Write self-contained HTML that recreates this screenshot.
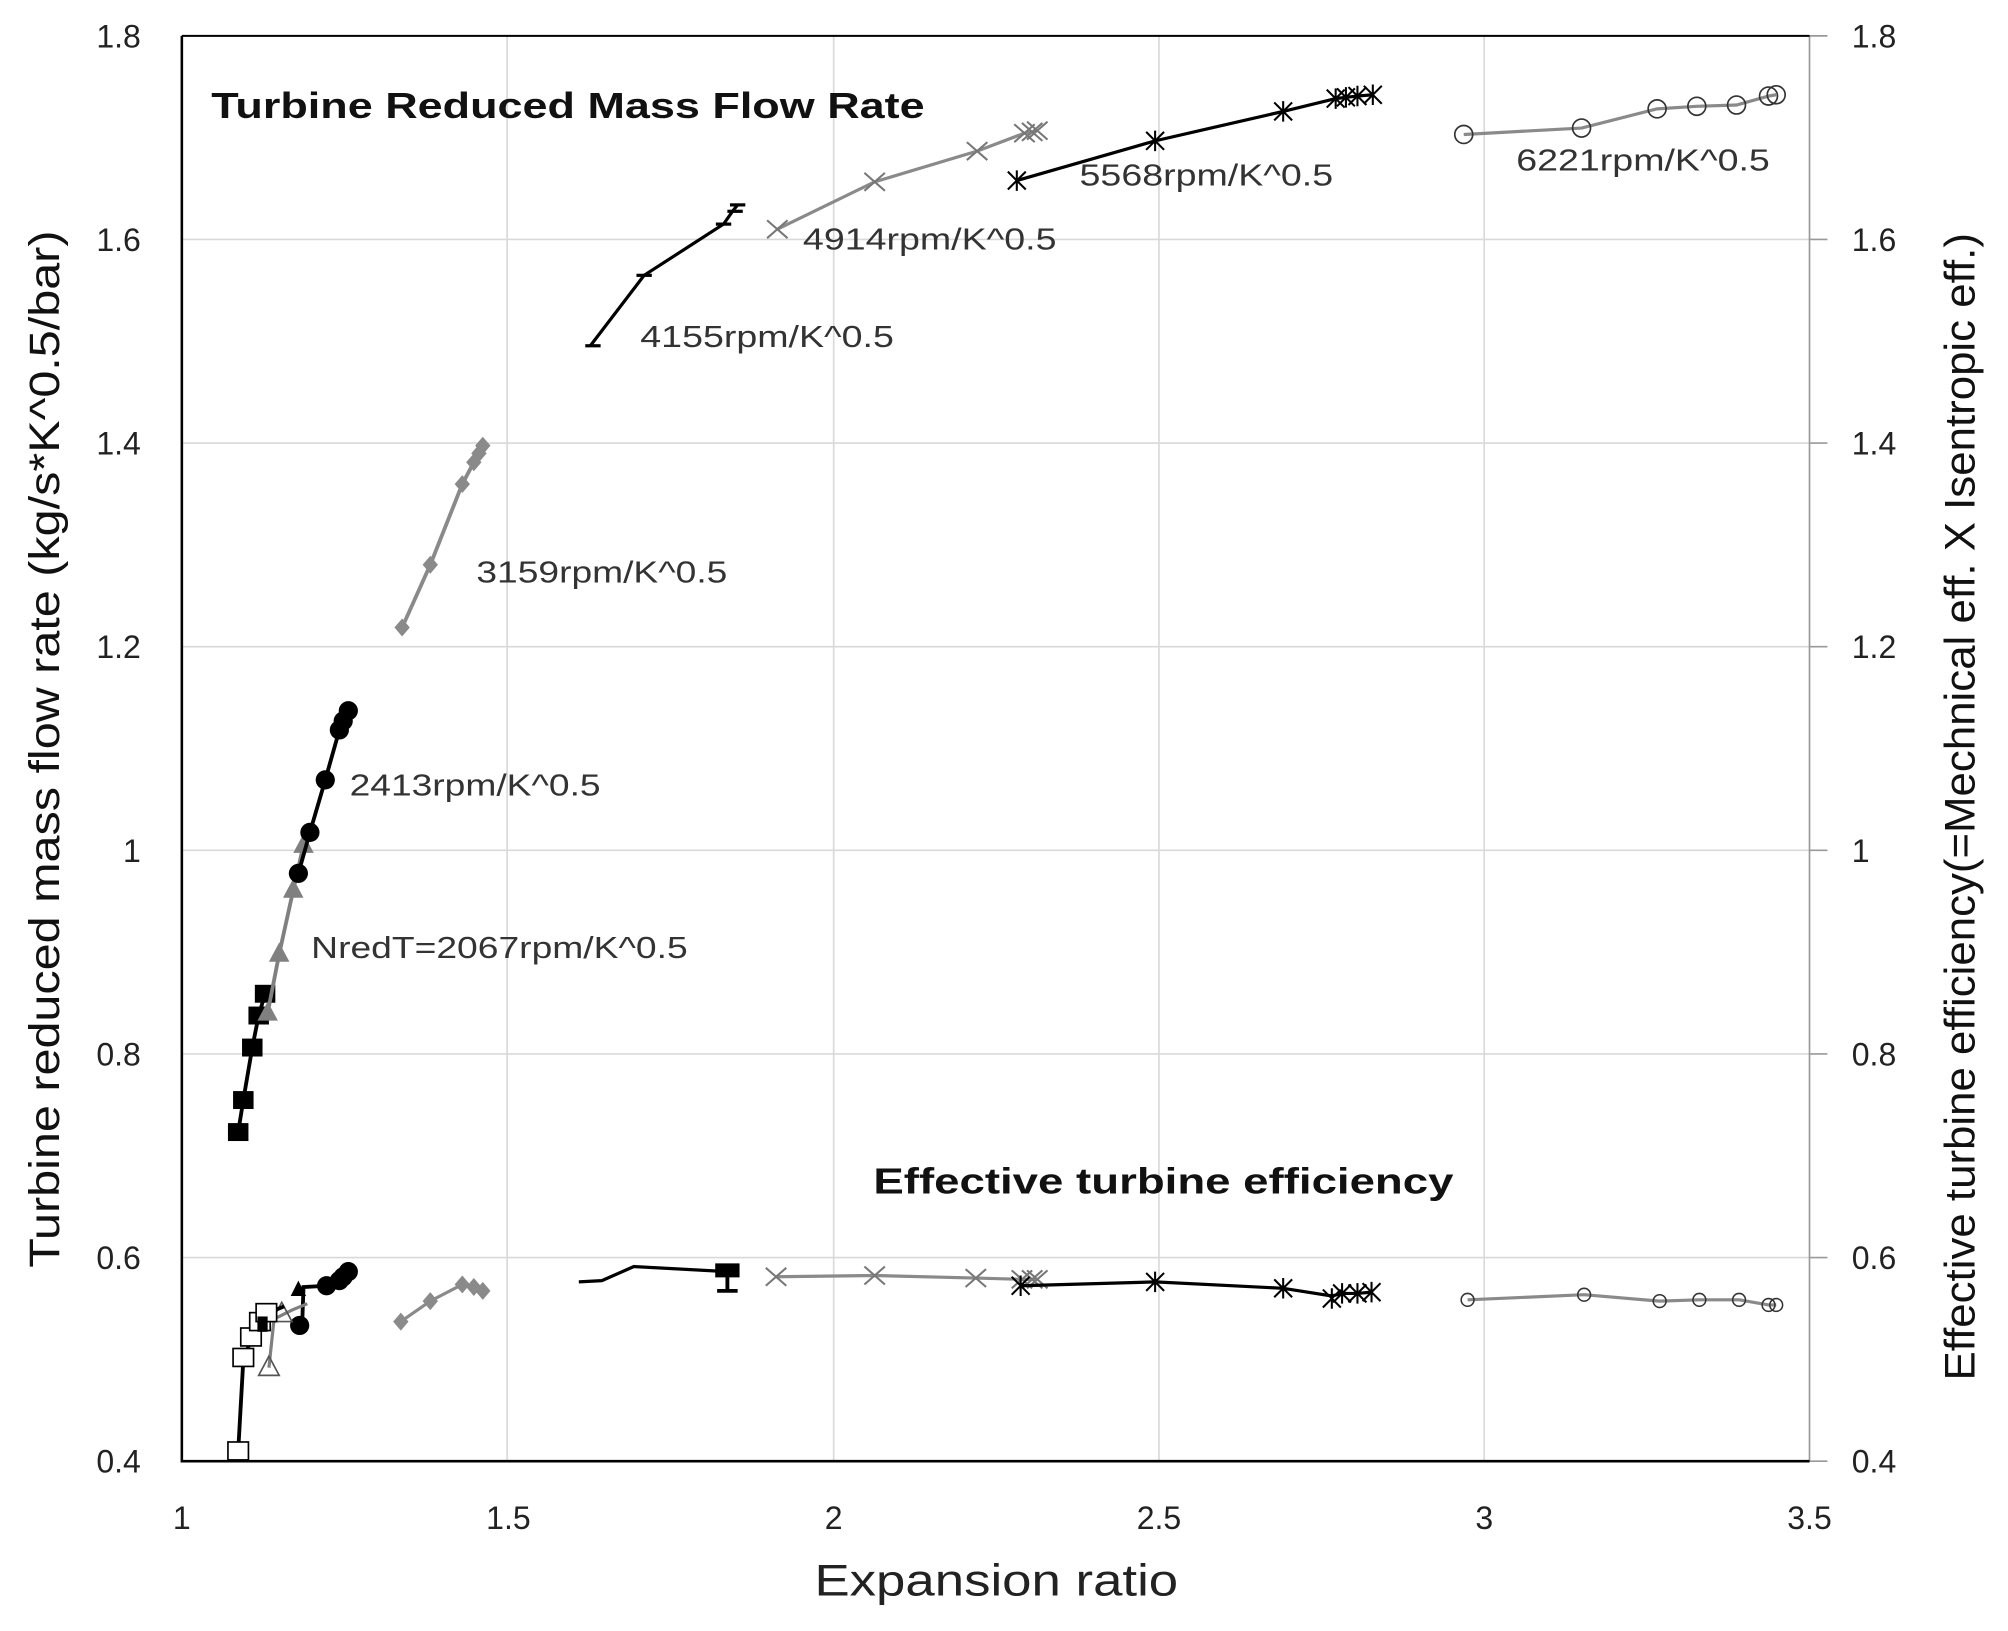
<!DOCTYPE html>
<html><head><meta charset="utf-8"><style>html,body{margin:0;padding:0;background:#fff}svg{display:block}</style></head>
<body>
<svg width="2008" height="1631" viewBox="0 0 1568 1273.6" preserveAspectRatio="none" xmlns="http://www.w3.org/2000/svg" font-family="Liberation Sans, sans-serif">
<defs>
<rect id="sqF" x="-8" y="-7" width="16" height="14" fill="#000"/>
<rect id="sqO" x="-8" y="-7" width="16" height="14" fill="#fff" stroke="#000" stroke-width="1.3"/>
<circle id="ciF" r="7.5" fill="#000"/>
<circle id="ciO" r="7" fill="none" stroke="#333" stroke-width="1.3"/>
<circle id="ciS" r="5" fill="none" stroke="#333" stroke-width="1.2"/>
<path id="trF" d="M0,-9 L8,6 L-8,6 Z" fill="#808080"/>
<path id="trO" d="M0,-9 L8,6 L-8,6 Z" fill="none" stroke="#555" stroke-width="1.3"/>
<path id="dmF" d="M0,-7 L6,0 L0,7 L-6,0 Z" fill="#8a8a8a"/>
<path id="xG" d="M-8,-7 L8,7 M-8,7 L8,-7" stroke="#777" stroke-width="1.6"/>
<path id="ast" d="M-7,-7 L7,7 M-7,7 L7,-7 M0,-8 L0,8" stroke="#000" stroke-width="1.6"/>
<path id="dsh" d="M-6,0 L6,0" stroke="#000" stroke-width="2.5"/>
</defs>
<g stroke="#d9d9d9" stroke-width="1.3">
<line x1="396" y1="28" x2="396" y2="1141"/><line x1="651" y1="28" x2="651" y2="1141"/>
<line x1="905" y1="28" x2="905" y2="1141"/><line x1="1159" y1="28" x2="1159" y2="1141"/>
<line x1="142" y1="982" x2="1413" y2="982"/><line x1="142" y1="823" x2="1413" y2="823"/>
<line x1="142" y1="664" x2="1413" y2="664"/><line x1="142" y1="505" x2="1413" y2="505"/>
<line x1="142" y1="346" x2="1413" y2="346"/><line x1="142" y1="187" x2="1413" y2="187"/>
</g>
<line x1="1413" y1="28" x2="1413" y2="1141" stroke="#999" stroke-width="1.3"/>
<g stroke="#999" stroke-width="1.3">
<line x1="1413" y1="28" x2="1427" y2="28"/><line x1="1413" y1="187" x2="1427" y2="187"/><line x1="1413" y1="346" x2="1427" y2="346"/><line x1="1413" y1="505" x2="1427" y2="505"/><line x1="1413" y1="664" x2="1427" y2="664"/><line x1="1413" y1="823" x2="1427" y2="823"/><line x1="1413" y1="982" x2="1427" y2="982"/><line x1="1413" y1="1141" x2="1427" y2="1141"/>
</g>
<line x1="142" y1="28" x2="1413" y2="28" stroke="#000" stroke-width="1.5"/>
<line x1="142" y1="28" x2="142" y2="1142" stroke="#000" stroke-width="2"/>
<line x1="142" y1="1141" x2="1413" y2="1141" stroke="#000" stroke-width="2"/>
<g font-size="25" fill="#222" text-anchor="end">
<text x="110" y="37">1.8</text><text x="110" y="196">1.6</text><text x="110" y="355">1.4</text><text x="110" y="514">1.2</text><text x="110" y="673">1</text><text x="110" y="832">0.8</text><text x="110" y="991">0.6</text><text x="110" y="1150">0.4</text>
</g>
<g font-size="25" fill="#222" text-anchor="start">
<text x="1446" y="37">1.8</text><text x="1446" y="196">1.6</text><text x="1446" y="355">1.4</text><text x="1446" y="514">1.2</text><text x="1446" y="673">1</text><text x="1446" y="832">0.8</text><text x="1446" y="991">0.6</text><text x="1446" y="1150">0.4</text>
</g>
<g font-size="25" fill="#222" text-anchor="middle">
<text x="142" y="1194">1</text><text x="397" y="1194">1.5</text><text x="651" y="1194">2</text><text x="905" y="1194">2.5</text><text x="1159" y="1194">3</text><text x="1413" y="1194">3.5</text>
</g>
<text x="778" y="1246" font-size="35" fill="#222" text-anchor="middle" textLength="284" lengthAdjust="spacingAndGlyphs">Expansion ratio</text>
<text transform="translate(46,585) rotate(-90)" font-size="33" fill="#111" text-anchor="middle" textLength="810" lengthAdjust="spacingAndGlyphs">Turbine reduced mass flow rate (kg/s*K^0.5/bar)</text>
<text transform="translate(1542,630) rotate(-90)" font-size="33" fill="#111" text-anchor="middle" textLength="896" lengthAdjust="spacingAndGlyphs">Effective turbine efficiency(=Mechnical eff. X Isentropic eff.)</text>
<text x="165" y="92" font-size="28" font-weight="bold" fill="#111" textLength="557" lengthAdjust="spacingAndGlyphs">Turbine Reduced Mass Flow Rate</text>
<text x="682" y="932" font-size="28" font-weight="bold" fill="#111" textLength="453" lengthAdjust="spacingAndGlyphs">Effective turbine efficiency</text>
<g font-size="24" fill="#333">
<text x="243" y="748" textLength="294" lengthAdjust="spacingAndGlyphs">NredT=2067rpm/K^0.5</text>
<text x="273" y="621" textLength="196" lengthAdjust="spacingAndGlyphs">2413rpm/K^0.5</text>
<text x="372" y="455" textLength="196" lengthAdjust="spacingAndGlyphs">3159rpm/K^0.5</text>
<text x="500" y="271" textLength="198" lengthAdjust="spacingAndGlyphs">4155rpm/K^0.5</text>
<text x="627" y="195" textLength="198" lengthAdjust="spacingAndGlyphs">4914rpm/K^0.5</text>
<text x="843" y="145" textLength="198" lengthAdjust="spacingAndGlyphs">5568rpm/K^0.5</text>
<text x="1184" y="133" textLength="198" lengthAdjust="spacingAndGlyphs">6221rpm/K^0.5</text>
</g>
<polyline points="186,884 190,859 197,818 202,793 207,776" fill="none" stroke="#000" stroke-width="3"/>
<use href="#sqF" x="186" y="884"/><use href="#sqF" x="190" y="859"/><use href="#sqF" x="197" y="818"/><use href="#sqF" x="202" y="793"/><use href="#sqF" x="207" y="776"/>
<polyline points="209,791 218,745 229,695 237,660" fill="none" stroke="#808080" stroke-width="3"/>
<use href="#trF" x="209" y="791"/><use href="#trF" x="218" y="745"/><use href="#trF" x="229" y="695"/><use href="#trF" x="237" y="660"/>
<polyline points="233,682 242,650 254,609 265,570 268,563 272,555" fill="none" stroke="#000" stroke-width="3"/>
<use href="#ciF" x="233" y="682"/><use href="#ciF" x="242" y="650"/><use href="#ciF" x="254" y="609"/><use href="#ciF" x="265" y="570"/><use href="#ciF" x="268" y="563"/><use href="#ciF" x="272" y="555"/>
<polyline points="314,490 336,441 361,378 370,361 374,354 377,348" fill="none" stroke="#8a8a8a" stroke-width="3"/>
<use href="#dmF" x="314" y="490"/><use href="#dmF" x="336" y="441"/><use href="#dmF" x="361" y="378"/><use href="#dmF" x="370" y="361"/><use href="#dmF" x="374" y="354"/><use href="#dmF" x="377" y="348"/>
<polyline points="461,270 503,215 565,175 572,165 576,160" fill="none" stroke="#000" stroke-width="2.5"/>
<use href="#dsh" x="463" y="270"/><use href="#dsh" x="503" y="215"/><use href="#dsh" x="565" y="175"/><use href="#dsh" x="574" y="165"/><use href="#dsh" x="576" y="160"/>
<polyline points="607,179 683,142 763,118 800,104 806,103 810,102" fill="none" stroke="#8a8a8a" stroke-width="2.5"/>
<use href="#xG" x="607" y="179"/><use href="#xG" x="683" y="142"/><use href="#xG" x="763" y="118"/><use href="#xG" x="800" y="104"/><use href="#xG" x="806" y="103"/><use href="#xG" x="810" y="102"/>
<polyline points="794,141 902,110 1002,87 1043,77 1051,76 1060,75 1072,74" fill="none" stroke="#000" stroke-width="2.5"/>
<use href="#ast" x="794" y="141"/><use href="#ast" x="902" y="110"/><use href="#ast" x="1002" y="87"/><use href="#ast" x="1043" y="77"/><use href="#ast" x="1051" y="76"/><use href="#ast" x="1060" y="75"/><use href="#ast" x="1072" y="74"/>
<polyline points="1143,105 1235,100 1294,85 1325,83 1356,82 1381,75 1387,74" fill="none" stroke="#8a8a8a" stroke-width="2.5"/>
<use href="#ciO" x="1143" y="105"/><use href="#ciO" x="1235" y="100"/><use href="#ciO" x="1294" y="85"/><use href="#ciO" x="1325" y="83"/><use href="#ciO" x="1356" y="82"/><use href="#ciO" x="1381" y="75"/><use href="#ciO" x="1387" y="74"/>
<polyline points="236,1033 237,1005 255,1004 265,1000 272,993" fill="none" stroke="#000" stroke-width="3"/>
<use href="#ciF" x="234" y="1035"/><use href="#ciF" x="255" y="1004"/><use href="#ciF" x="265" y="1000"/><use href="#ciF" x="268" y="997"/><use href="#ciF" x="272" y="993"/>
<path d="M233,1000 L239,1012 L227,1012 Z" fill="#000"/>
<polyline points="210,1068 214,1030 228,1023 240,1018" fill="none" stroke="#808080" stroke-width="2.5"/>
<use href="#trO" x="210" y="1068"/><use href="#trO" x="220" y="1026"/>
<polyline points="186,1133 190,1062 196,1046 203,1033 208,1026 222,1020" fill="none" stroke="#000" stroke-width="3"/>
<use href="#sqO" x="186" y="1133"/><use href="#sqO" x="190" y="1060"/><use href="#sqO" x="196" y="1044"/><use href="#sqO" x="203" y="1032"/><use href="#sqO" x="208" y="1025"/>
<path d="M201,1040 L209,1040 L209,1028 L201,1028 Z" fill="#000"/>
<polyline points="313,1032 336,1016 361,1003 370,1005 377,1008" fill="none" stroke="#8a8a8a" stroke-width="2.5"/>
<use href="#dmF" x="313" y="1032"/><use href="#dmF" x="336" y="1016"/><use href="#dmF" x="361" y="1003"/><use href="#dmF" x="370" y="1005"/><use href="#dmF" x="377" y="1008"/>
<polyline points="452,1001 470,1000 495,989 568,993" fill="none" stroke="#000" stroke-width="2.5"/>
<path d="M560,988 h16 v8 h-16 Z M568,996 v12 M560,1008 h16" stroke="#000" stroke-width="3" fill="#000"/>
<polyline points="606,997 683,996 762,998 798,999 806,999 810,999" fill="none" stroke="#8a8a8a" stroke-width="2.5"/>
<use href="#xG" x="606" y="997"/><use href="#xG" x="683" y="996"/><use href="#xG" x="762" y="998"/><use href="#xG" x="798" y="999"/><use href="#xG" x="806" y="999"/><use href="#xG" x="810" y="999"/>
<polyline points="797,1004 902,1001 1002,1006 1040,1012 1048,1010 1060,1010 1071,1009" fill="none" stroke="#000" stroke-width="2.5"/>
<use href="#ast" x="797" y="1004"/><use href="#ast" x="902" y="1001"/><use href="#ast" x="1002" y="1006"/><use href="#ast" x="1040" y="1014"/><use href="#ast" x="1048" y="1010"/><use href="#ast" x="1060" y="1010"/><use href="#ast" x="1071" y="1009"/>
<polyline points="1146,1015 1237,1011 1296,1016 1327,1015 1358,1015 1381,1019 1387,1019" fill="none" stroke="#8a8a8a" stroke-width="2.5"/>
<use href="#ciS" x="1146" y="1015"/><use href="#ciS" x="1237" y="1011"/><use href="#ciS" x="1296" y="1016"/><use href="#ciS" x="1327" y="1015"/><use href="#ciS" x="1358" y="1015"/><use href="#ciS" x="1381" y="1019"/><use href="#ciS" x="1387" y="1019"/>
</svg>
</body></html>
